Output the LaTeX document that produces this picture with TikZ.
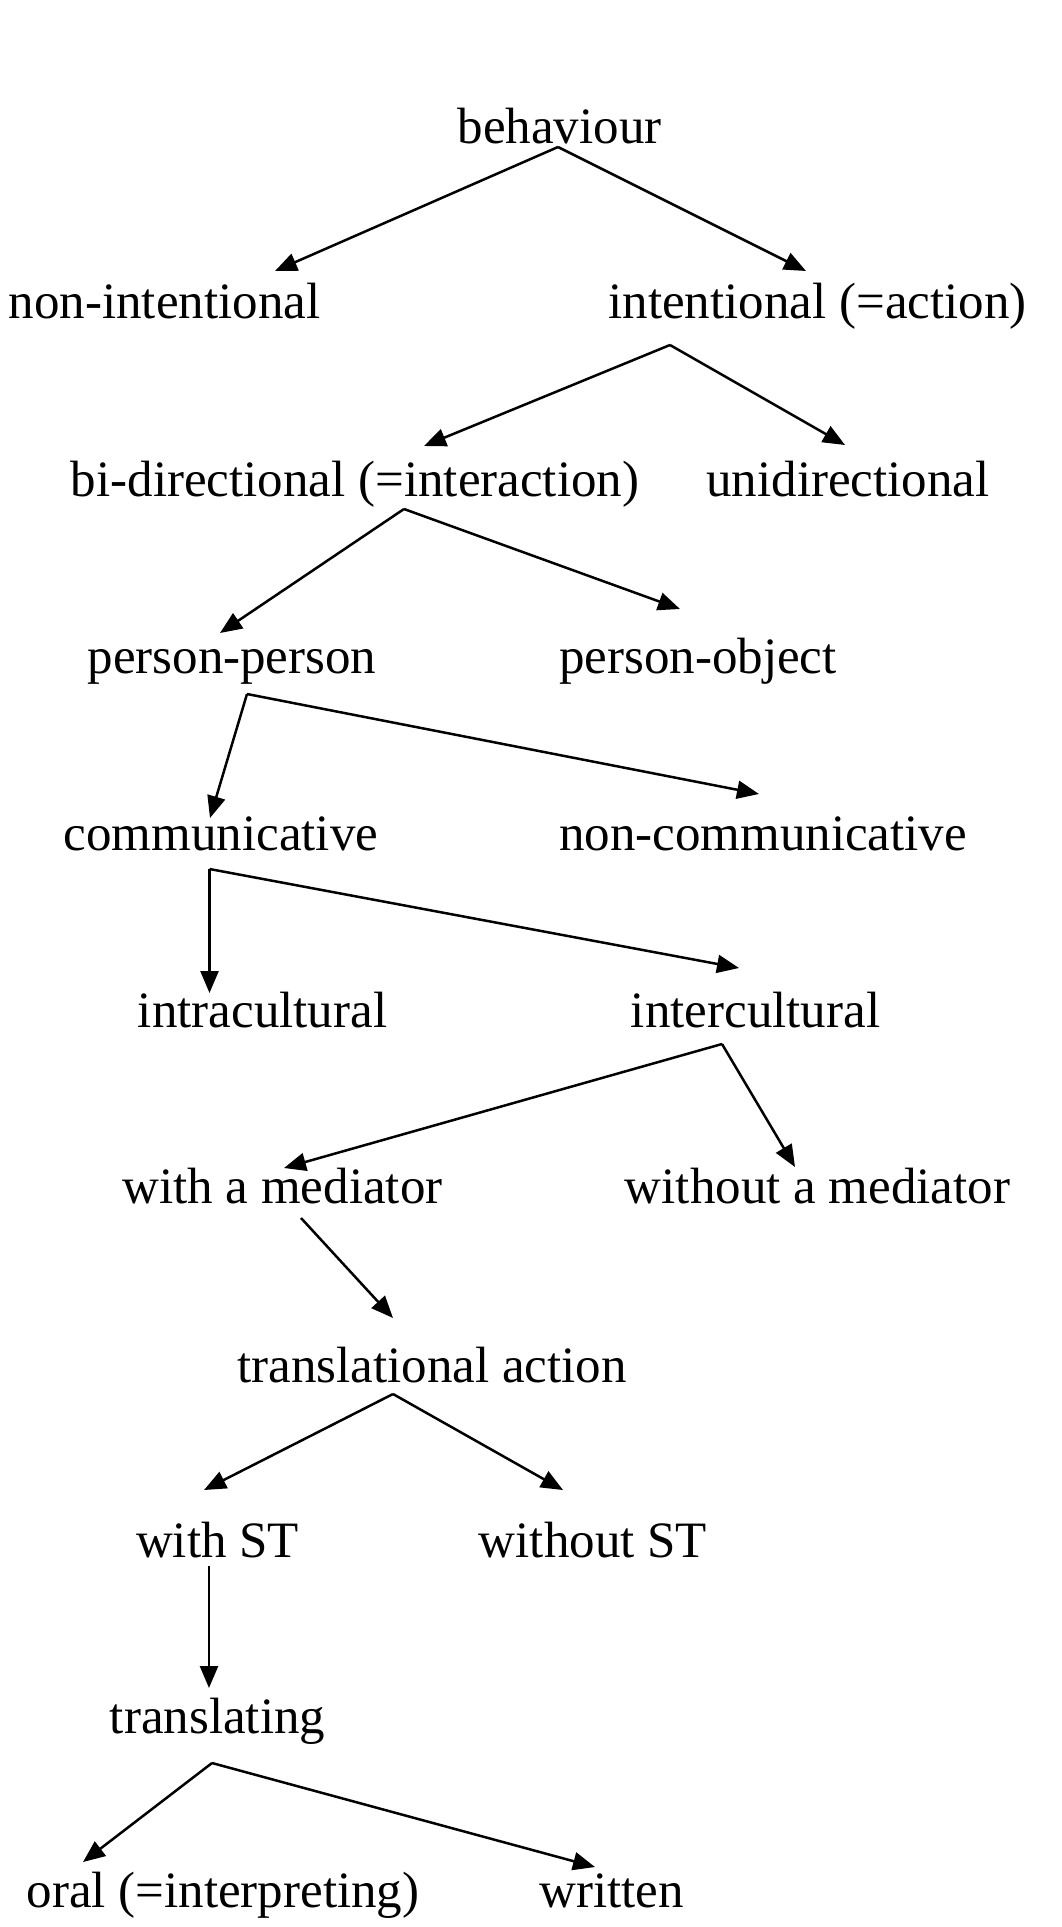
\documentclass[tikz,border=0pt]{standalone}
\usepackage{fontspec}
\setmainfont{Liberation Serif}
\usetikzlibrary{arrows.meta}
\begin{document}
\begin{tikzpicture}[x=0.5pt,y=-0.5pt,
  lbl/.style={anchor=base,inner sep=0pt,font=\fontsize{25.5}{30}\selectfont},
  arr/.style={line width=1.25pt,-{Triangle[length=11pt,width=9pt]}}]
\useasboundingbox[fill=white] (0,0) rectangle (1061,1927);
% labels
\node[lbl] (beh)  at (559.5,143) {behaviour};
\node[lbl] (nonint) at (164.5,318) {non-intentional};
\node[lbl] (int)  at (817.5,318) {intentional (=action)};
\node[lbl] (bidir) at (355,496) {bi-directional (=interaction)};
\node[lbl] (uni)  at (848,496) {unidirectional};
\node[lbl] (pp)   at (232,673) {person-person};
\node[lbl] (po)   at (698,673) {person-object};
\node[lbl] (com)  at (221,850) {communicative};
\node[lbl] (ncom) at (763,850) {non-communicative};
\node[lbl] (intra) at (262.5,1027) {intracultural};
\node[lbl] (inter) at (755.5,1027) {intercultural};
\node[lbl] (wmed) at (282.5,1203) {with a mediator};
\node[lbl] (womed) at (817.5,1203) {without a mediator};
\node[lbl] (trac) at (432,1382) {translational action};
\node[lbl] (wst)  at (217.5,1557) {with ST};
\node[lbl] (wost) at (593,1557) {without ST};
\node[lbl] (trl)  at (217.5,1733) {translating};
\node[lbl] (oral) at (223,1907) {oral (=interpreting)};
\node[lbl] (wri)  at (611.5,1907) {written};
% connector end points
\coordinate (behS) at (558,147);
\coordinate (nonintT) at (275,271);
\coordinate (intT) at (806,271);
\coordinate (intS) at (670,345);
\coordinate (bidirT) at (424,446);
\coordinate (uniT) at (845,445);
\coordinate (bidirS) at (404,509);
\coordinate (ppT) at (220,633);
\coordinate (poT) at (680,609);
\coordinate (ppS) at (247,694);
\coordinate (comT) at (210,818);
\coordinate (ncomT) at (759,794);
\coordinate (comS) at (209.5,869);
\coordinate (intraT) at (209.5,993);
\coordinate (interT) at (739,968);
\coordinate (interS) at (722,1044);
\coordinate (wmedT) at (284,1168);
\coordinate (womedT) at (795,1167);
\coordinate (wmedS) at (301,1218);
\coordinate (tracT) at (393,1318);
\coordinate (tracS) at (393,1394);
\coordinate (wstT) at (204,1490);
\coordinate (wostT) at (563,1490);
\coordinate (wstS) at (209,1566);
\coordinate (trlT) at (209,1688);
\coordinate (trlS) at (212,1763);
\coordinate (oralT) at (83,1862);
\coordinate (wriT) at (595,1867);
% connectors
\draw[arr] (behS) -- (nonintT);
\draw[arr] (behS) -- (intT);
\draw[arr] (intS) -- (bidirT);
\draw[arr] (intS) -- (uniT);
\draw[arr] (bidirS) -- (ppT);
\draw[arr] (bidirS) -- (poT);
\draw[arr] (ppS) -- (comT);
\draw[arr] (ppS) -- (ncomT);
\draw[arr] (comS) -- (intraT);
\draw[arr] (comS) -- (interT);
\draw[arr] (interS) -- (wmedT);
\draw[arr] (interS) -- (womedT);
\draw[arr] (wmedS) -- (tracT);
\draw[arr] (tracS) -- (wstT);
\draw[arr] (tracS) -- (wostT);
\draw[arr] (wstS) -- (trlT);
\draw[arr] (trlS) -- (oralT);
\draw[arr] (trlS) -- (wriT);
\end{tikzpicture}
\end{document}
